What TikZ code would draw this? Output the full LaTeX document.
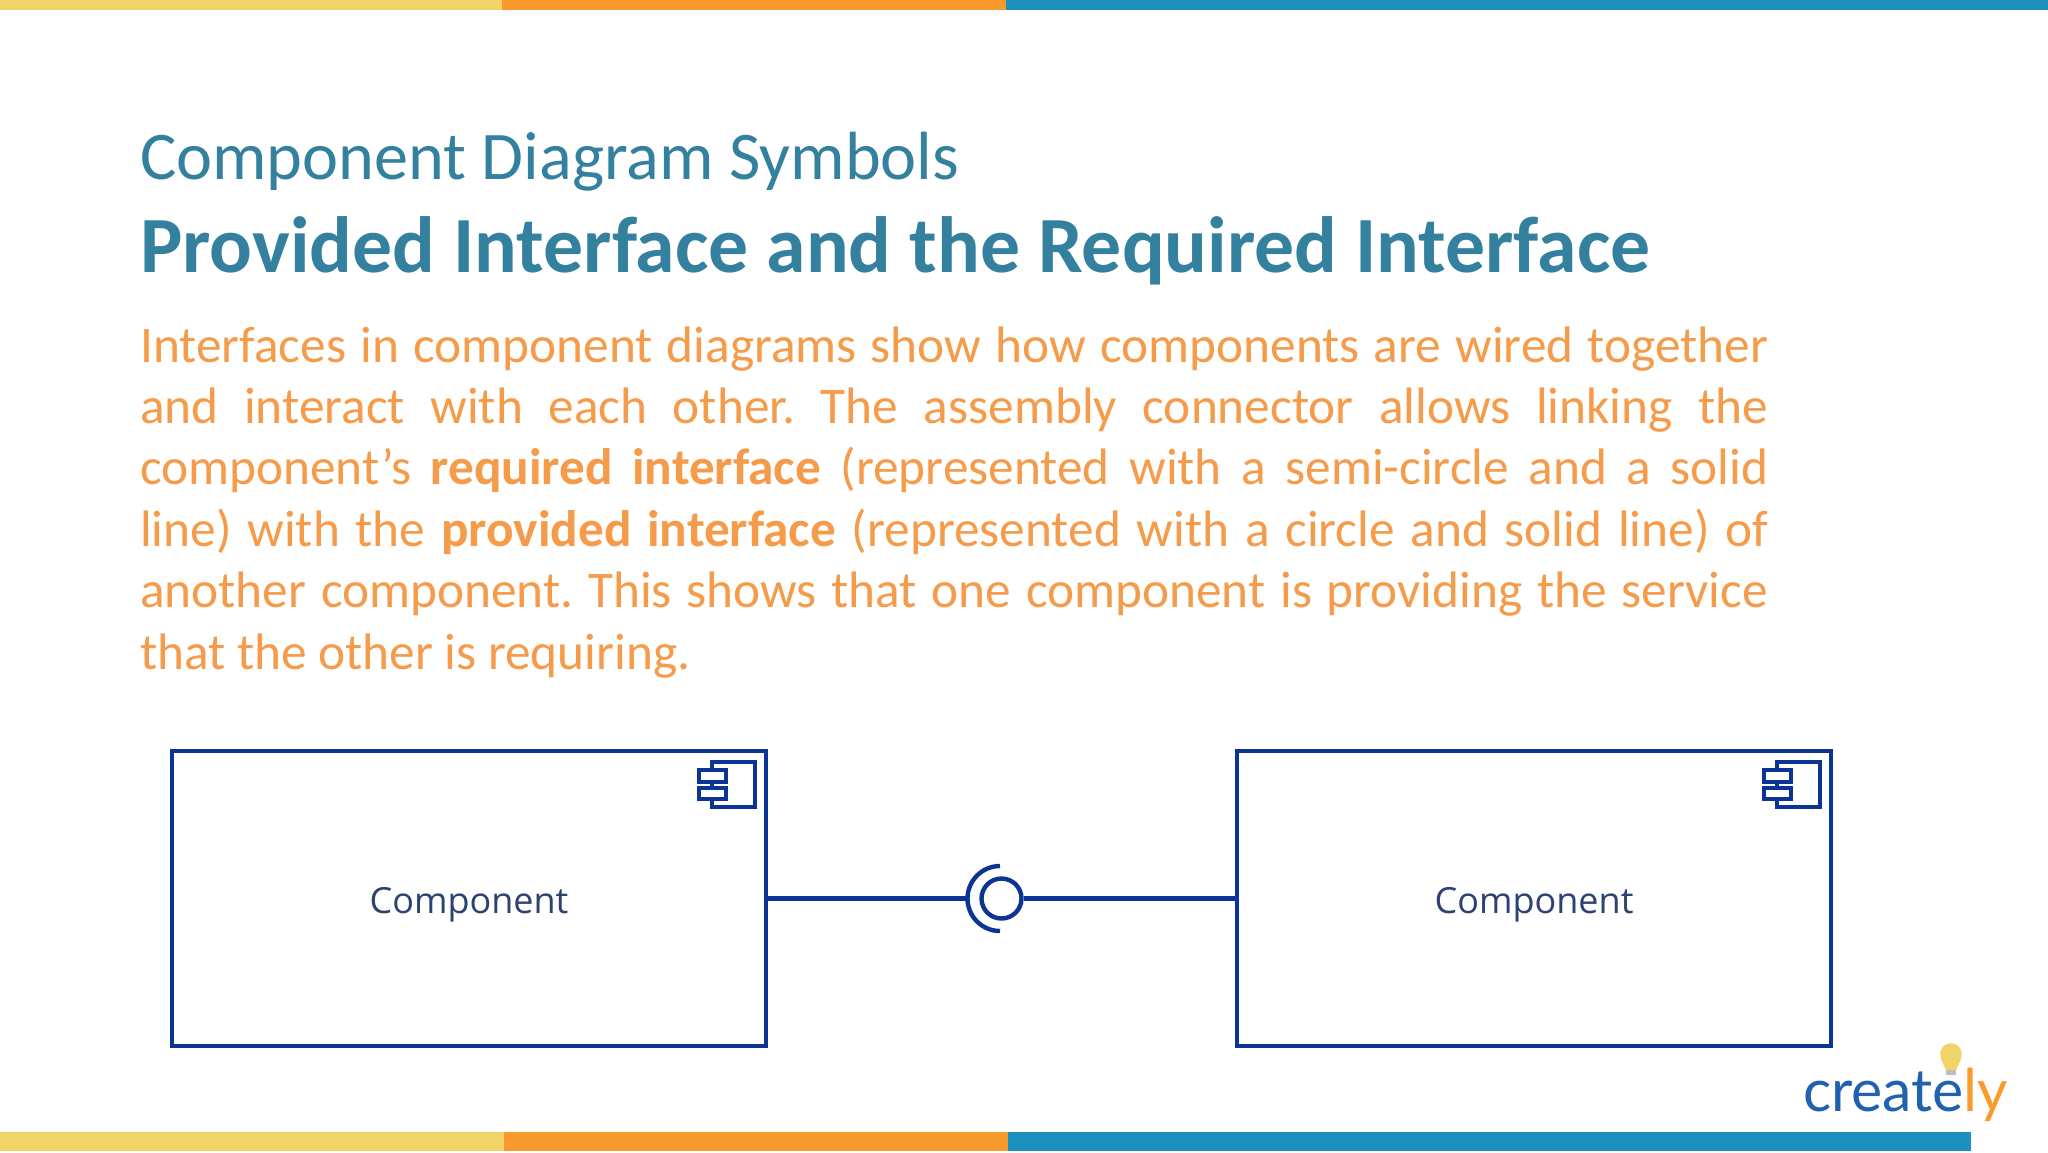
\documentclass[tikz,border=0pt]{standalone}
\usepackage{fontspec}
\setmainfont{Carlito}
\newfontfamily\compfont{Open Sans}
\newfontfamily\logofont{Lato}
\definecolor{titleteal}{HTML}{33819E}
\definecolor{bodyorange}{HTML}{F59B4A}
\definecolor{baryellow}{HTML}{F0D468}
\definecolor{barorange}{HTML}{F89A2C}
\definecolor{barblue}{HTML}{1C90BE}
\definecolor{linkblue}{HTML}{0B3494}
\definecolor{compink}{HTML}{2E4272}
\definecolor{logoblue}{HTML}{1F62B0}
\tikzset{
  x=1pt,y=-1pt,
  comp/.style={draw=linkblue,line width=4.4pt,fill=white,minimum width=594pt,minimum height=295pt,inner sep=0pt,text=compink,font=\compfont\fontsize{36}{40}\selectfont},
  wire/.style={draw=linkblue,line width=4.4pt},
  ball/.style={circle,draw=linkblue,line width=4.4pt,minimum size=40pt,inner sep=0pt},
  titleline/.style={anchor=base west,inner sep=0pt,text=titleteal},
  iconline/.style={draw=linkblue,line width=4pt,fill=white},
  pics/compicon/.style={code={
    \draw[iconline] (0,0) rectangle (43,45);
    \draw[iconline] (-13,8) rectangle (14,20);
    \draw[iconline] (-13,26) rectangle (14,37);
  }}
}
\begin{document}
\begin{tikzpicture}
\useasboundingbox (0,0) rectangle (2048,1152);
\fill[white] (0,0) rectangle (2048,1152);
% bars
\fill[baryellow] (0,0) rectangle (502,10);
\fill[barorange] (502,0) rectangle (1006,10);
\fill[barblue] (1006,0) rectangle (2048,10);
\fill[baryellow] (0,1132) rectangle (504,1151);
\fill[barorange] (504,1132) rectangle (1008,1151);
\fill[barblue] (1008,1132) rectangle (1971,1151);
% titles
\node[titleline,font=\fontsize{68.2}{70}\selectfont] (t1) at (140,179.5) {Component Diagram Symbols};
\node[titleline,font=\bfseries\fontsize{79.7}{80}\selectfont] (t2) at (140,272.5) {Provided Interface and the Required Interface};
% body
\node[anchor=north west,inner sep=0pt,text=bodyorange,text width=1628pt,align=justify,
      font=\fontsize{51.3}{61.4}\selectfont] (body) at (140,326.3) {\frenchspacing\hfuzz=40pt\emergencystretch=200pt
Interfaces in component diagrams show how components are wired together\linebreak
and interact with each other. The assembly connector allows linking the\linebreak
component’s \textbf{required interface} (represented with a semi-circle and a solid\linebreak
line) with the \textbf{provided interface} (represented with a circle and solid line) of\linebreak
another component. This shows that one component is providing the service\linebreak
that the other is requiring.};
% components
\node[comp] (c1) at (469,898.5) {\raisebox{-15pt}[0pt][0pt]{Component}};
\node[comp] (c2) at (1534,898.5) {\raisebox{-15pt}[0pt][0pt]{Component}};
\pic at (712,762) {compicon};
\pic at (1777,762) {compicon};
% assembly
\node[ball] (ball) at (1001.5,898.5) {};
\coordinate (socket) at (968,898.5);
\draw[wire] (1000,866) arc[start angle=-90,delta angle=-180,radius=32.5];
\draw[wire] (c1.east) -- (socket);
\draw[wire] (ball.east) -- (c2.west);
% logo
\node[anchor=base west,inner sep=0pt,font=\logofont\fontsize{59}{60}\selectfont] (logo) at (1803,1111) {\textcolor{logoblue}{create}\textcolor{barorange}{ly}};
\fill[baryellow] (1951,1054) circle[radius=10.8];
\fill[baryellow] (1941,1059) -- (1961,1059) -- (1956,1070) -- (1946,1070) -- cycle;
\fill[gray!50] (1946,1070) rectangle (1956,1075);
\end{tikzpicture}
\end{document}
